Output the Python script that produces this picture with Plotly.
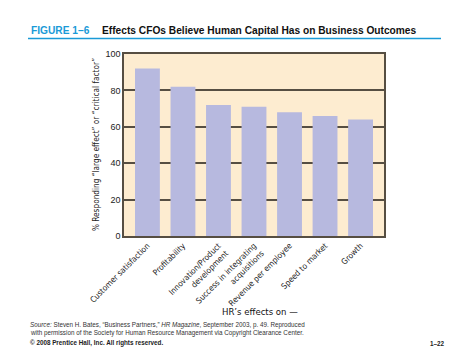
import plotly.graph_objects as go

categories = [
    "Customer satisfaction",
    "Profitability",
    "Innovation/Product<br>development",
    "Success in integrating<br>acquisitions",
    "Revenue per employee",
    "Speed to market",
    "Growth",
]
values = [92, 82, 72, 71, 68, 66, 64]
y_ticks = [0, 20, 40, 60, 80, 100]

W, H = 474, 355
L, R, T, B = 124, 384, 54, 236

def px(x):
    return (x - L) / (R - L)

def py(y):
    return (B - y) / (B - T)

FRAME = "#564e42"
BAR = "#b7b9df"
BG = "#fdecd0"
BLUE = "#1a9ad7"
NARROW = "DejaVu Sans Condensed, Liberation Sans Narrow, Arial Narrow, sans-serif"
SANS = "Liberation Sans, Arial, sans-serif"

fig = go.Figure(
    go.Bar(
        x=list(range(len(categories))),
        y=values,
        marker=dict(color=BAR, line=dict(width=0)),
        width=0.70,
    )
)

fig.update_layout(
    width=W,
    height=H,
    autosize=False,
    margin=dict(l=L, r=W - R, t=T, b=H - B, pad=0),
    paper_bgcolor="white",
    plot_bgcolor=BG,
    showlegend=False,
)

fig.update_xaxes(
    tickmode="array",
    tickvals=list(range(len(categories))),
    ticktext=categories,
    tickangle=-45,
    range=[-0.66, len(categories) - 1 + 0.66],
    showgrid=False,
    showline=True,
    mirror=True,
    linecolor=FRAME,
    linewidth=1.5,
    ticks="",
    tickfont=dict(family=NARROW, size=8.2, color="#222"),
    automargin=False,
    fixedrange=True,
)
fig.update_yaxes(
    range=[0, 100],
    tickmode="array",
    tickvals=y_ticks,
    ticktext=[str(v) for v in y_ticks],
    showgrid=True,
    gridcolor=FRAME,
    gridwidth=1.5,
    zeroline=False,
    showline=True,
    mirror=True,
    linecolor=FRAME,
    linewidth=1.5,
    ticks="",
    tickfont=dict(family=SANS, size=9, color="#222"),
    automargin=False,
    fixedrange=True,
)

annotations = [
    dict(x=px(29), y=py(30), text="<b>FIGURE 1\u20136</b>", xanchor="left", yanchor="middle",
         font=dict(family=SANS, size=10.2, color=BLUE)),
    dict(x=px(100), y=py(30), text="<b>Effects CFOs Believe Human Capital Has on Business Outcomes</b>",
         xanchor="left", yanchor="middle", font=dict(family=SANS, size=10.2, color="#111")),
    dict(x=px(96), y=py(145), text="% Responding \u201clarge effect\u201d or \u201ccritical factor\u201d",
         textangle=-90, xanchor="center", yanchor="middle",
         font=dict(family=NARROW, size=8.2, color="#222")),
    dict(x=px(260), y=py(311), text="HR\u2019s effects on \u2014", xanchor="center", yanchor="middle",
         font=dict(family=NARROW, size=9.5, color="#111")),
    dict(x=px(28), y=py(325), text="<i>Source:</i> Steven H. Bates, \u201cBusiness Partners,\u201d <i>HR Magazine</i>, September 2003, p. 49. Reproduced",
         xanchor="left", yanchor="middle", font=dict(family=SANS, size=6.3, color="#333")),
    dict(x=px(28), y=py(332.5), text="with permission of the Society for Human Resource Management via Copyright Clearance Center.",
         xanchor="left", yanchor="middle", font=dict(family=SANS, size=6.3, color="#333")),
    dict(x=px(28), y=py(343), text="<b>\u00a9 2008 Prentice Hall, Inc. All rights reserved.</b>",
         xanchor="left", yanchor="middle", font=dict(family=SANS, size=6.3, color="#222")),
    dict(x=px(447), y=py(343), text="<b>1\u201322</b>", xanchor="right", yanchor="middle",
         font=dict(family=SANS, size=6.3, color="#222")),
]
for a in annotations:
    a.update(xref="paper", yref="paper", showarrow=False)
fig.update_layout(annotations=annotations)

fig.add_shape(type="line", xref="paper", yref="paper",
              x0=px(28), x1=px(441), y0=py(38.5), y1=py(38.5),
              line=dict(color=BLUE, width=1.5))

fig.write_html(
    "out.html",
    config={"displayModeBar": False},
    post_script="document.body.style.margin='0px';document.body.style.overflow='hidden';",
)
